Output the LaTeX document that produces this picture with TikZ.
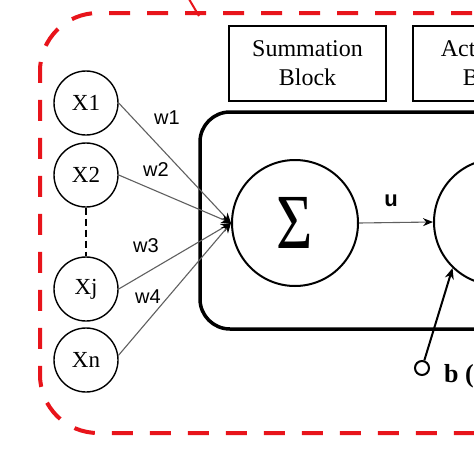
\documentclass[tikz,border=0pt]{standalone}
\usepackage{fontspec}
\setmainfont{Liberation Serif}
\newfontfamily\labsans{Liberation Sans}
\usetikzlibrary{arrows.meta}
\definecolor{redline}{HTML}{E8141B}
\definecolor{wline}{HTML}{606060}
\begin{document}
\begin{tikzpicture}[x=1pt,y=-1pt,
  inp/.style={circle,draw,line width=1.4pt,minimum size=64pt,inner sep=0pt,font=\fontsize{23}{23}\selectfont},
  bigc/.style={circle,draw,line width=2pt,minimum size=126pt,inner sep=0pt},
  blockbox/.style={draw,line width=2pt,minimum width=157pt,minimum height=75pt,inner sep=0pt,align=center,font=\fontsize{24}{29}\selectfont},
  wlab/.style={font=\labsans\fontsize{20}{20}\selectfont,inner sep=0pt},
  wire/.style={draw=wline,line width=1.1pt,-{Stealth[length=10pt,width=9pt,color=black]}},
  >=Stealth]
\useasboundingbox (0,0) rectangle (474,474);
\clip (0,0) rectangle (474,474);
\fill[white] (0,0) rectangle (474,474);
% red dashed frame
\draw[redline,line width=4pt,dash pattern=on 21pt off 17pt,rounded corners=58pt]
  (700,13) -- (40,13) -- (40,433) -- (700,433);
\draw[redline,line width=2pt] (186,-6) -- (199,16);
% header boxes
\node[blockbox] (sumb) at (307.5,63.5) {Summation\\Block};
\node[blockbox] (actb) at (491.5,63.5) {Activation\\Block};
% thick rounded box
\draw[line width=3.5pt,rounded corners=30pt] (700,112) -- (200,112) -- (200,329) -- (700,329);
% input nodes
\node[inp] (x1) at (86,103) {X1};
\node[inp] (x2) at (86,175) {X2};
\node[inp] (xj) at (86,289) {Xj};
\node[inp] (xn) at (86,360) {Xn};
\draw[line width=2.4pt,dash pattern=on 7pt off 4pt] (x2.south) -- (xj.north);
% summation and activation circles
\node[bigc] (sig) at (295,223) {\scalebox{0.8}[1]{\fontsize{78}{78}\selectfont Σ}};
\node[bigc] (act) at (497,222) {};
% weighted inputs
\draw[wire] (x1.east) -- (sig.west);
\draw[wire] (x2.east) -- (sig.west);
\draw[wire] (xj.east) -- (sig.west);
\draw[wire] (xn.8) -- (sig.west);
\node[wlab] (w1) at (167,118) {w1};
\node[wlab] (w2) at (156,170) {w2};
\node[wlab] (w3) at (146,246) {w3};
\node[wlab] (w4) at (148,297) {w4};
% u
\draw[draw=wline,line width=1.1pt,-{Stealth[length=10pt,width=8pt,color=black]}] (sig.east) -- (act.west);
\node[font=\labsans\bfseries\fontsize{22}{22}\selectfont,inner sep=0pt] (u) at (391,201) {u};
% bias
\node[circle,draw,line width=2pt,minimum size=14pt,inner sep=0pt] (b) at (422,368) {};
\draw[line width=2pt,-{Stealth[length=11pt,width=9pt]}] (b) -- (act.226);
\node[anchor=base west,font=\bfseries\fontsize{26}{26}\selectfont,inner sep=0pt] (blab) at (444,382) {b (bias)};
\end{tikzpicture}
\end{document}
